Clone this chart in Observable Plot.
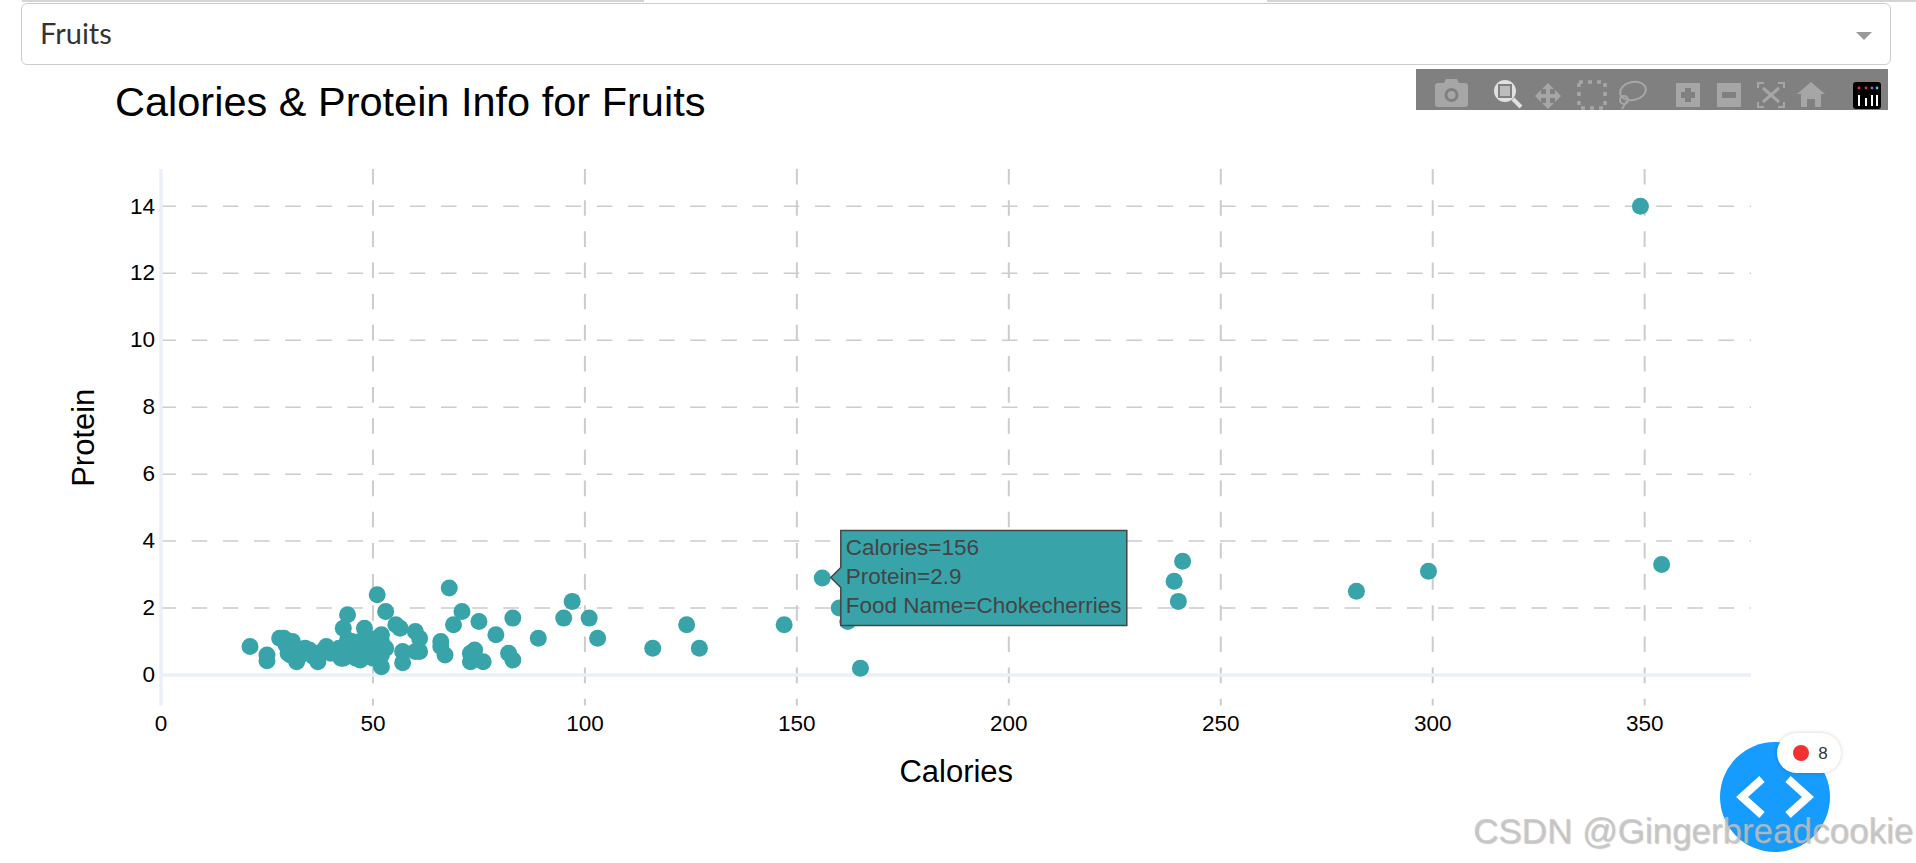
<!DOCTYPE html>
<html><head><meta charset="utf-8">
<script src="https://cdn.jsdelivr.net/npm/d3@7"></script>
<script src="https://cdn.jsdelivr.net/npm/@observablehq/plot@0.6"></script>
<style>
html,body{margin:0;padding:0;background:#fff;overflow:hidden}
#wrap{position:relative;width:1916px;height:863px;font-family:"Liberation Sans",Arial,sans-serif}
#wrap>*{position:absolute}
#plot{left:0;top:0}
#sel{left:21px;top:3px;width:1868px;height:60px;border:1px solid #ccc;border-radius:6px;box-sizing:content-box;background:#fff;font-family:Lato,sans-serif;font-size:29px;color:#333;line-height:58px;text-indent:18px}
#caret{left:1856px;top:32px;width:0;height:0;border-left:8px solid transparent;border-right:8px solid transparent;border-top:8px solid #999}
#tabs1{left:22px;top:0;width:622px;height:2px;background:#d4d4d4}
#tabs2{left:1267px;top:0;width:649px;height:2px;background:#d4d4d4}
#title{left:115px;top:78px;font-size:41.5px;line-height:48px;color:#000;white-space:nowrap}
#bar{left:1416px;top:69px;width:472px;height:41px;background:#808080}
#tip{left:0;top:0;pointer-events:none}
#tiptext{color:#444;font-size:22.5px;line-height:29px;white-space:nowrap}
#fab{left:1720px;top:742px;width:110px;height:110px;border-radius:50%;background:#169bff}
#badge{left:1777px;top:733px;width:64px;height:40px;border-radius:20px;background:#fff;box-shadow:0 0 4px rgba(0,0,0,.18);font-size:17px;color:#333}
#wm{left:1473px;top:810px;font-size:35px;line-height:42px;color:rgba(195,195,195,.8);text-shadow:1px 1px 1px rgba(150,150,150,.5);white-space:nowrap}
</style></head><body>
<div id="wrap">
<div id="tabs1"></div><div id="tabs2"></div>
<div id="sel">Fruits</div><div id="caret"></div>
<div id="plot"></div>
<div id="title">Calories &amp; Protein Info for Fruits</div>
<div id="bar"></div>
<div id="fab"></div>
<div id="badge"></div>
<div id="wm">CSDN @Gingerbreadcookie</div>
</div>
<script>
const calories = [21,25,25,28,29,31,30,30.5,32,31,34,36,37,39,38,42.5,43,43,44,44,46,47,48,47,48.7,49.5,50.6,51,52,52,53,53,55.4,56.4,57,57,60,61,61,60,66,66,67,68,69,71,75,73,74,73,76,79,82,83,83,89,95,97,101,103,116,124,127,147,156,160,162,165,239,241,240,282,299,349,354,45,46,45,47,49,50,49,50,52,44,41,40,42,52,51,33,35,29.5,30];
const protein  = [0.85,0.6,0.43,1.1,1.1,1.0,0.65,0.6,0.4,0.8,0.8,0.55,0.4,0.85,0.7,0.5,0.5,1.4,1.8,1.05,0.5,0.45,1.4,0.85,0.8,0.95,0.7,2.4,1.2,0.25,0.8,1.9,1.5,1.4,0.7,0.37,1.3,1.1,0.7,0.7,1.0,0.85,0.6,2.6,1.5,1.9,1.6,0.65,0.75,0.4,0.4,1.2,0.65,0.45,1.7,1.1,1.7,2.2,1.7,1.1,0.8,1.5,0.8,1.5,2.9,2.0,1.6,0.2,2.8,3.4,2.2,2.5,3.1,14,3.3,0.9,0.7,1.0,1.0,1.1,0.9,0.6,0.5,0.6,0.6,0.7,0.65,0.8,1.0,1.1,0.6,0.75,0.9,0.8];
const xTicks = [0,50,100,150,200,250,300,350];
const yTicks = [0,2,4,6,8,10,12,14];
const xDomain = [0,375.2];
const yDomain = [-0.925,15.1];
const hover = {calories:156, protein:2.9, name:"Chokecherries"};
const teal = "#38a4aa", grid = "#cccccc", zero = "#ebf0f8";
const points = calories.map((c,i)=>({c,p:protein[i]}));

const plot = Plot.plot({
  width:1916, height:863,
  marginLeft:160.5, marginRight:165, marginTop:169, marginBottom:157.5,
  style:{background:"transparent",fontFamily:'"Liberation Sans",Arial,sans-serif',color:"#000"},
  x:{domain:xDomain}, y:{domain:yDomain},
  marks:[
    Plot.ruleX(xTicks.filter(d=>d),{x:d=>d,y1:yDomain[1],y2:yDomain[0],stroke:grid,strokeWidth:2,strokeDasharray:"15.58,15.58"}),
    Plot.ruleY(yTicks.filter(d=>d),{y:d=>d,x1:xDomain[0],x2:xDomain[1],stroke:grid,strokeWidth:1.5,strokeDasharray:"15.58,15.58"}),
    Plot.ruleX([0],{stroke:zero,strokeWidth:3.5}),
    Plot.ruleY([0],{stroke:zero,strokeWidth:3.5}),
    Plot.axisX({ticks:xTicks,tickSize:0,tickPadding:9,fontSize:22.5,label:null,tickFormat:d=>String(d)}),
    Plot.axisY({ticks:yTicks,tickSize:0,tickPadding:6,fontSize:22.5,label:null,tickFormat:d=>String(d)}),
    Plot.dot(points,{x:"c",y:"p",r:8.5,fill:teal,stroke:"none"}),
    Plot.text(["Calories"],{frameAnchor:"bottom",dy:76,fontSize:31,fill:"#000"}),
    Plot.text(["Protein"],{frameAnchor:"left",textAnchor:"middle",dx:-77,rotate:-90,fontSize:31,fill:"#000"})
  ]
});
document.getElementById("plot").append(plot);

// Hover label anchored to the hovered point through the scales
const px = plot.scale("x").apply(hover.calories), py = plot.scale("y").apply(hover.protein);
const wrap = document.getElementById("wrap");
const boxL = px+19, boxT = py-47, boxW = 286, boxH = 95;
const tipSvg = `<svg id="tip" width="1916" height="863" style="position:absolute;left:0;top:0"><path d="M${boxL} ${boxT}H${boxL+boxW}V${boxT+boxH}H${boxL}V${py+10}L${px+9} ${py}L${boxL} ${py-10}Z" fill="${teal}" stroke="#444" stroke-width="1.5"/></svg>`;
wrap.insertAdjacentHTML("beforeend",tipSvg);
const t = document.createElement("div");
t.id="tiptext";
t.style.left=(boxL+5)+"px"; t.style.top=(boxT+3)+"px";
t.innerHTML=`Calories=${hover.calories}<br>Protein=${hover.protein}<br>Food Name=${hover.name}`;
wrap.append(t);

// Toolbar glyphs
const g="#a6a6a6";
document.getElementById("bar").innerHTML=`<svg width="472" height="41">
<g fill="${g}">
<path d="M22 14h6l2-4h11l2 4h6a3 3 0 0 1 3 3v18a3 3 0 0 1-3 3H22a3 3 0 0 1-3-3V17a3 3 0 0 1 3-3z"/><circle cx="35.500" cy="26" r="7" fill="#808080"/><circle cx="35.500" cy="26" r="4"/>
<path d="M132 14l6 6h-4v5h5v-4l6 6-6 6v-4h-5v5h4l-6 6-6-6h4v-5h-5v4l-6-6 6-6v4h5v-5h-4z"/>
<rect x="260" y="14" width="24" height="24"/><rect x="301" y="14" width="24" height="24"/>
<path d="M395 13l14 12h-4v13h-6v-8h-8v8h-6V25h-4z"/>
</g>
<g fill="#808080"><rect x="269" y="19" width="6" height="14"/><rect x="265" y="23" width="14" height="6"/><rect x="306" y="23" width="14" height="6"/></g>
<g><circle cx="89" cy="22" r="11" fill="#e0e0e0"/><rect x="83" y="16" width="12" height="12" fill="#bdbdbd" stroke="#808080" stroke-width="2"/><path d="M97 30l8 8" stroke="#e0e0e0" stroke-width="4"/></g>
<rect x="163" y="13" width="26" height="26" fill="none" stroke="${g}" stroke-width="3.500" stroke-dasharray="4,5"/>
<g fill="none" stroke="${g}" stroke-width="2"><ellipse cx="217" cy="22" rx="13" ry="9" transform="rotate(-12 217 22)"/><circle cx="208" cy="31" r="4"/><path d="M206 40l5-8"/></g>
<g fill="none" stroke="${g}" stroke-width="2"><path d="M342 19v-5h6M362 14h6v5M368 33v5h-6M348 38h-6v-5"/><path stroke-width="3" d="M347 19l16 14M363 19l-16 14"/></g>
<rect x="437" y="13" width="28" height="27" rx="3" fill="#000"/>
<g fill="#fff"><rect x="442" y="26" width="2" height="11"/><rect x="449" y="29" width="2" height="8"/><rect x="455" y="26" width="2" height="11"/><rect x="460" y="26" width="2" height="11"/></g>
<g><circle cx="443" cy="19" r="1.400" fill="#e6246b"/><circle cx="450" cy="19" r="1.400" fill="#e6246b"/><circle cx="456" cy="19" r="1.400" fill="#8a6bd1"/><circle cx="461" cy="19" r="1.400" fill="#3ac6d6"/></g>
</svg>`;
document.getElementById("fab").innerHTML=`<svg width="110" height="110"><path d="M42 37L22 55L42 73M68 37L88 55L68 73" fill="none" stroke="#fff" stroke-width="8"/></svg>`;
document.getElementById("badge").innerHTML=`<svg width="64" height="40"><circle cx="24" cy="20" r="8" fill="#f33131"/><text x="46" y="26" font-size="17" text-anchor="middle" fill="#333" font-family="Liberation Sans">8</text></svg>`;
</script>
</body></html>
